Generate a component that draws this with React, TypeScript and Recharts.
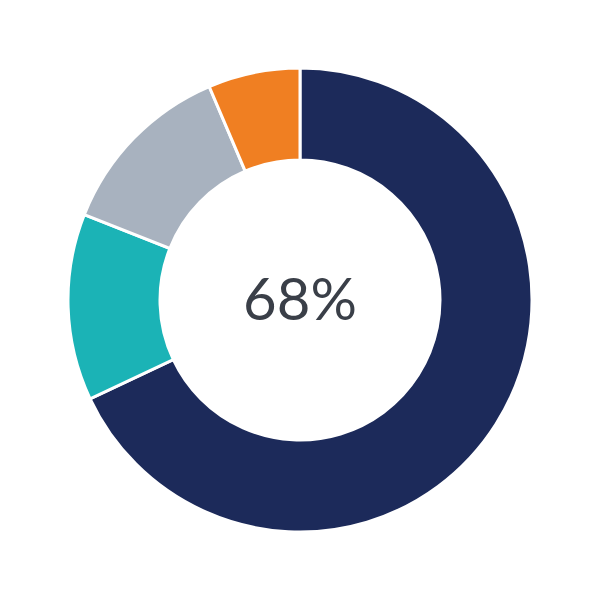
import { PieChart, Pie, Cell } from "recharts";

const segmentNames = ["Primary", "Teal", "Gray", "Orange"];
const segmentValues = [68, 13, 12.6, 6.4];
const segmentColors = ["#1c2a5a", "#1bb3b6", "#a8b2bf", "#f07f22"];
const centerLabel = "68%";

const data = segmentNames.map((name, i) => ({ name, value: segmentValues[i] }));

const App = () => {
  return (
    <div style={{ position: "absolute", left: 0, top: 0, width: 600, height: 600, background: "#fff" }}>
      <PieChart width={600} height={600} margin={{ top: 0, right: 0, bottom: 0, left: 0 }}>
        <Pie
          data={data}
          dataKey="value"
          cx={300}
          cy={300}
          innerRadius={140}
          outerRadius={232}
          startAngle={90}
          endAngle={-270}
          stroke="#ffffff"
          strokeWidth={3}
          isAnimationActive={false}
        >
          {data.map((d, i) => (
            <Cell key={d.name} fill={segmentColors[i]} />
          ))}
        </Pie>
        <text
          x={300}
          y={297}
          textAnchor="middle"
          dominantBaseline="central"
          fontFamily="Lato, sans-serif"
          fontWeight={400}
          fontSize={58}
          fill="#3a3f48"
        >
          {centerLabel}
        </text>
      </PieChart>
    </div>
  );
};

export default App;
